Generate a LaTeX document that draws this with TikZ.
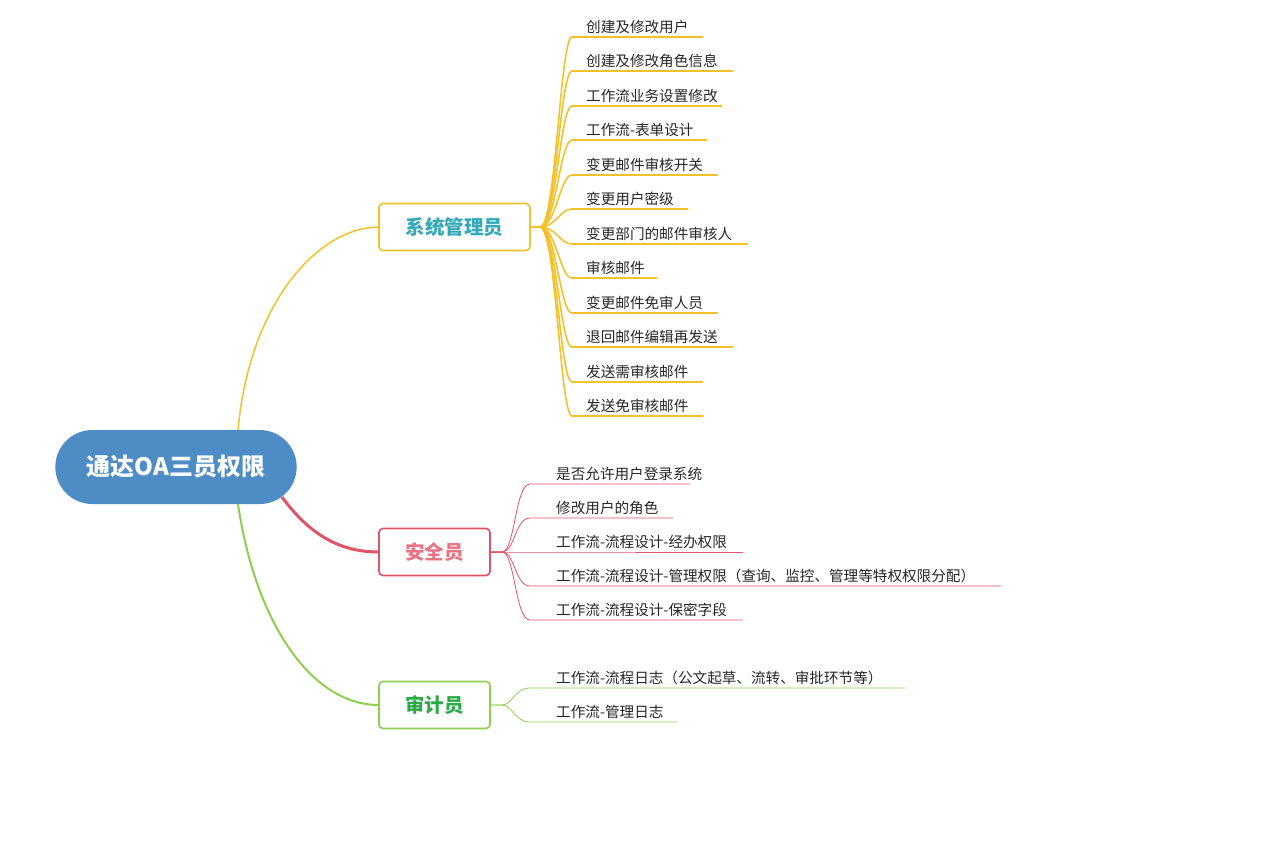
\documentclass[tikz,border=0pt]{standalone}
\usepackage{fontspec}
\setmainfont{Noto Sans CJK SC}
\usetikzlibrary{shapes.misc}
\definecolor{rootc}{HTML}{4E8CC6}
\definecolor{yel}{HTML}{F5C12A}
\definecolor{teal}{HTML}{35A9B8}
\definecolor{redc}{HTML}{E05469}
\definecolor{pinkt}{HTML}{EA7383}
\definecolor{grn}{HTML}{8DCF4E}
\definecolor{grnt}{HTML}{2BAA48}
\tikzset{
 leaf/.style={anchor=south west,inner sep=3pt,font=\fontsize{14.6}{16}\selectfont,text=black!85},
 branch/.style={draw,rounded corners=4pt,line width=1.6pt,fill=white,font=\fontsize{19.5}{22}\selectfont\bfseries,minimum height=47pt},
}
\begin{document}
\begin{tikzpicture}[x=1pt,y=-1pt]
\useasboundingbox (0,0) rectangle (1268,846);
% branch connectors
\draw[yel,line width=1.5pt] (238,430) .. controls (250,300) and (320,227) .. (379,227);
\draw[redc,line width=3pt] (282,497) .. controls (310,535) and (340,552) .. (379,552);
\draw[grn,line width=2pt] (238,504) .. controls (255,620) and (310,705) .. (379,705);
\node[rounded rectangle,fill=rootc,minimum width=248pt,minimum height=74pt,text=white,font=\fontsize{24}{28}\selectfont\bfseries] (root) at (176,467) {通达OA三员权限};
\node[branch,draw=yel,text=teal,minimum width=151pt] (sys) at (454.5,227) {系统管理员};
\node[branch,draw=redc,text=pinkt,minimum width=111pt] (sec) at (434.5,552) {安全员};
\node[branch,draw=grn,text=grnt,minimum width=111pt] (aud) at (434.5,705) {审计员};
% system leaves
\foreach \y/\e/\t [count=\i] in {37/703/创建及修改用户,71/733/创建及修改角色信息,106/722/工作流业务设置修改,140/707/工作流-表单设计,175/718/变更邮件审核开关,209/688/变更用户密级,244/748/变更部门的邮件审核人,278/657/审核邮件,313/718/变更邮件免审人员,347/733/退回邮件编辑再发送,382/703/发送需审核邮件,416/703/发送免审核邮件}{
 \node[leaf] (s\i) at (583,\y) {\t};
 \coordinate (se\i) at (\e,\y);
 \draw[yel,line width=1.6pt] (sys.east) -- (540,227) .. controls (556,227) and (560,\y) .. (572,\y) -- (se\i);
}
% security leaves
\foreach \y/\e/\t [count=\i] in {484/690/是否允许用户登录系统,518/673/修改用户的角色,552/743/工作流-流程设计-经办权限,586/1001/工作流-流程设计-管理权限（查询、监控、管理等特权权限分配）,620/743/工作流-流程设计-保密字段}{
 \node[leaf] (r\i) at (553,\y) {\t};
 \coordinate (re\i) at (\e,\y);
 \draw[redc,line width=0.8pt] (sec.east) -- (502,552) .. controls (515,552) and (515,\y) .. (530,\y) -- (re\i);
}
% audit leaves
\foreach \y/\e/\t [count=\i] in {688/905/工作流-流程日志（公文起草、流转、审批环节等）,722/678/工作流-管理日志}{
 \node[leaf] (a\i) at (553,\y) {\t};
 \coordinate (ae\i) at (\e,\y);
 \draw[grn,line width=0.8pt] (aud.east) -- (502,705) .. controls (512,705) and (515,\y) .. (530,\y) -- (ae\i);
}
\end{tikzpicture}
\end{document}
